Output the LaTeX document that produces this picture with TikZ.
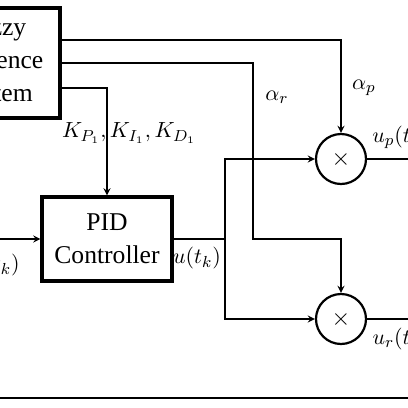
\documentclass[tikz,border=0pt]{standalone}
\usepackage{fontspec}
\setmainfont{Liberation Serif}
\usetikzlibrary{calc}
\begin{document}
\begin{tikzpicture}[x=0.5pt,y=-0.5pt,
  block/.style={draw,line width=1.6pt,align=center,font=\fontsize{12.8}{16.5}\selectfont},
  mult/.style={draw,circle,line width=1.1pt,minimum size=25pt,inner sep=0pt,font=\fontsize{13}{15}\selectfont},
  wire/.style={line width=0.6pt},
  lab/.style={font=\fontsize{11}{13}\selectfont},
  >=stealth]
\useasboundingbox (0,0) rectangle (408,408);

\node[block,minimum width=65pt,minimum height=55pt](fis) at (-5,63){Fuzzy\\Inference\\System};
\node[block,minimum width=65pt,minimum height=42pt](pid) at (107,239){PID\\Controller};
\node[mult](mulp) at (341,159){$\times$};
\node[mult](mulr) at (341,319){$\times$};

\coordinate (in) at (-10,239);
\coordinate (split) at (225,239);
\coordinate (rturn) at (253,239);

\draw[wire,->] ($(fis.east)+(0,-23)$) -| (mulp.north);
\draw[wire,->] (fis.east) -| (rturn) -| (mulr.north);
\draw[wire,->] ($(fis.east)+(0,25)$) -| (pid.north);
\draw[wire,->] (in) -- (pid.west);
\draw[wire] (pid.east) -- (split);
\draw[wire,->] (split) |- (mulp.west);
\draw[wire,->] (split) |- (mulr.west);
\draw[wire] (mulp.east) -- ++(60,0);
\draw[wire] (mulr.east) -- ++(60,0);
\draw[wire] (-10,398) -- (420,398);

\node[lab](lk) at (129,133){$K_{P_1}, K_{I_1}, K_{D_1}$};
\node[lab](lar) at (277,97){$\alpha_r$};
\node[lab](lap) at (364,88){$\alpha_p$};
\node[lab](le) at (-3,265){$e(t_k)$};
\node[lab](lu) at (197,258){$u(t_k)$};
\node[lab](lup) at (401,137){$u_p(t_k)$};
\node[lab](lur) at (401,339){$u_r(t_k)$};

\end{tikzpicture}
\end{document}
